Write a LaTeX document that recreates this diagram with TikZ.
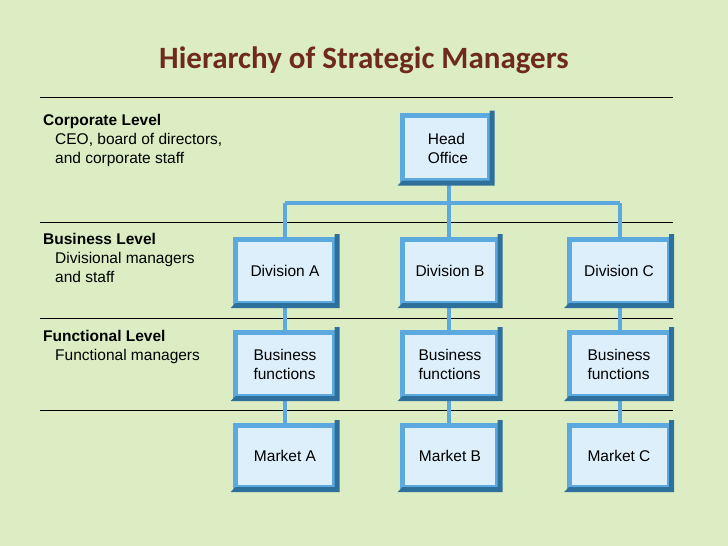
\documentclass[tikz,border=0pt]{standalone}
\usepackage{fontspec}
\setmainfont{Liberation Sans}
\newfontfamily\titlefont{Carlito}
\definecolor{bg}{HTML}{DCEDC4}
\definecolor{lb}{HTML}{5BA9DE}
\definecolor{db}{HTML}{2F6F9C}
\definecolor{fillb}{HTML}{DDEFFA}
\definecolor{ttl}{HTML}{6E2A1C}
\begin{document}
\begin{tikzpicture}[x=1pt,y=-1pt,
  box/.style={draw=lb,line width=5pt,fill=fillb,inner sep=0pt,align=left,font=\fontsize{15.5}{19}\selectfont},
  conn/.style={draw=lb,line width=4pt},
  sep/.style={draw=black,line width=0.6pt},
  lvl/.style={anchor=north west,align=left,font=\fontsize{15.5}{18.5}\selectfont,inner sep=0pt}]
\fill[bg] (0,0) rectangle (728,546);
\useasboundingbox (0,0) rectangle (728,546);
\node[font=\titlefont\bfseries\fontsize{31}{36}\selectfont,text=ttl] (title) at (364,60) {Hierarchy of Strategic Managers};
\foreach \yy in {97,222,318,410} \draw[sep] (40,\yy) -- (673,\yy);
% connectors
\coordinate (jl) at (285,203); \coordinate (jr) at (620,203); \coordinate (jm) at (449,203);
\draw[conn] (jl) -- (jr);
\draw[conn] (449,183) -- (jm);
\draw[conn] (jl) -- (285,240); \draw[conn] (jm) -- (449,240); \draw[conn] (jr) -- (620,240);
\foreach \xx in {285,449,620} {\draw[conn] (\xx,300) -- (\xx,335); \draw[conn] (\xx,395) -- (\xx,428);}
% boxes
\node[box,minimum width=87pt,minimum height=65pt] (ho) at (446,148) {\hspace*{4pt}Head\\\hspace*{4pt}Office};
\node[box,minimum width=99pt,minimum height=64pt] (da) at (285,271) {Division A};
\node[box,minimum width=95pt,minimum height=64pt] (db) at (450,271) {Division B};
\node[box,minimum width=100pt,minimum height=64pt] (dc) at (619,271) {Division C};
\node[box,minimum width=99pt,minimum height=64pt] (ba) at (285,364) {Business\\functions};
\node[box,minimum width=95pt,minimum height=64pt] (bb) at (450,364) {Business\\functions};
\node[box,minimum width=100pt,minimum height=64pt] (bc) at (619,364) {Business\\functions};
\node[box,minimum width=99pt,minimum height=62pt] (ma) at (285,456) {Market A};
\node[box,minimum width=95pt,minimum height=62pt] (mb) at (450,456) {Market B};
\node[box,minimum width=100pt,minimum height=62pt] (mc) at (619,456) {Market C};
\foreach \n in {ho,da,db,dc,ba,bb,bc,ma,mb,mc}
  \fill[db] ([shift={(-2.5,-2.5)}]\n.north east) -- ([shift={(2.5,-2.5)}]\n.north east) -- ([shift={(2.5,2.5)}]\n.south east) -- ([shift={(-2.5,2.5)}]\n.south west) -- ([shift={(2.5,-2.5)}]\n.south west) -- ([shift={(-2.5,-2.5)}]\n.south east) -- cycle;
% level labels
\node[lvl] (l1) at (43,114) {\textbf{Corporate Level}\\[1pt]\hspace*{12pt}CEO, board of directors,\\\hspace*{12pt}and corporate staff};
\node[lvl] (l2) at (43,233) {\textbf{Business Level}\\[1pt]\hspace*{12pt}Divisional managers\\\hspace*{12pt}and staff};
\node[lvl] (l3) at (43,330) {\textbf{Functional Level}\\[1pt]\hspace*{12pt}Functional managers};
\end{tikzpicture}
\end{document}
